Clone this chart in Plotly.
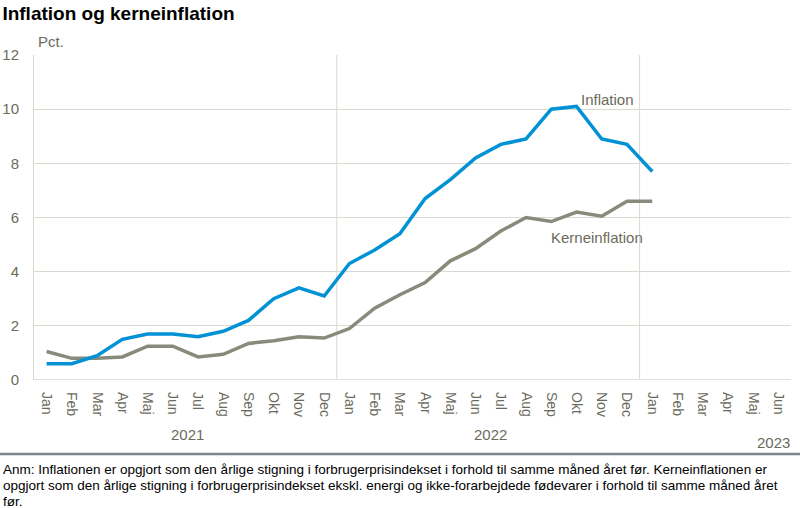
import plotly.graph_objects as go

W, H = 800, 508
M_L, M_R, M_T, M_B = 34, 9, 55, 128
BLUE = "#0092d5"
GREY = "#8a8a7c"
TXT = "#6b6b5c"
GRID = "#d9d9d0"
NARROW = "Liberation Sans Narrow, Arial Narrow, Liberation Sans, Arial"

months = ["Jan", "Feb", "Mar", "Apr", "Maj", "Jun", "Jul", "Aug", "Sep", "Okt", "Nov", "Dec"]
years = ["2021", "2022", "2023"]
categories = [f"{m} {y}" for y in years for m in months][:30]
tick_labels = [c.split()[0] for c in categories]

inflation = [0.6, 0.6, 0.9, 1.5, 1.7, 1.7, 1.6, 1.8, 2.2, 3.0, 3.4, 3.1,
             4.3, 4.8, 5.4, 6.7, 7.4, 8.2, 8.7, 8.9, 10.0, 10.1, 8.9, 8.7,
             7.7]
kerneinflation = [1.05, 0.8, 0.8, 0.85, 1.25, 1.25, 0.85, 0.95, 1.35, 1.45, 1.6, 1.55,
                  1.9, 2.65, 3.15, 3.6, 4.4, 4.85, 5.5, 6.0, 5.85, 6.2, 6.05, 6.6,
                  6.6]

note_lines = [
    "Anm: Inflationen er opgjort som den årlige stigning i forbrugerprisindekset i forhold til samme måned året før. Kerneinflationen er",
    "opgjort som den årlige stigning i forbrugerprisindekset ekskl. energi og ikke-forarbejdede fødevarer i forhold til samme måned året",
    "før.",
]

pw = W - M_L - M_R
ph = H - M_T - M_B


def px_x(x):
    return (x - M_L) / pw


def px_y(y):
    return (H - M_B - y) / ph


fig = go.Figure()
fig.add_trace(go.Scatter(x=categories[:len(kerneinflation)], y=kerneinflation, mode="lines",
                         line=dict(color=GREY, width=3.5), name="Kerneinflation"))
fig.add_trace(go.Scatter(x=categories[:len(inflation)], y=inflation, mode="lines",
                         line=dict(color=BLUE, width=3.5), name="Inflation"))

# årsskel
for pos in [11.5, 23.5]:
    fig.add_shape(type="line", xref="x", yref="y", x0=pos, x1=pos, y0=0, y1=12,
                  line=dict(color=GRID, width=1), layer="below")

# skillelinje over anmærkning
fig.add_shape(type="line", xref="paper", yref="paper", x0=px_x(0), x1=px_x(800),
              y0=px_y(454), y1=px_y(454), line=dict(color="#7d878b", width=2.5))

ann = [
    dict(text="Inflation", x=px_x(579), y=px_y(99), xanchor="left"),
    dict(text="Kerneinflation", x=px_x(549), y=px_y(237), xanchor="left"),
    dict(text="Pct.", x=px_x(36), y=px_y(42), xanchor="left"),
    dict(text="2021", x=px_x(187), y=px_y(434), xanchor="center"),
    dict(text="2022", x=px_x(490), y=px_y(434), xanchor="center"),
    dict(text="2023", x=px_x(792), y=px_y(442), xanchor="right"),
]
for a in ann:
    fig.add_annotation(xref="paper", yref="paper", yanchor="middle", showarrow=False,
                       font=dict(family=NARROW, size=15, color=TXT), **a)

for i, line in enumerate(note_lines):
    fig.add_annotation(text=line, xref="paper", yref="paper", x=px_x(1), y=px_y(470 + 15.5 * i),
                       xanchor="left", yanchor="middle", align="left", showarrow=False,
                       font=dict(family="Liberation Sans, Arial", size=13.5, color="#000000"))

fig.update_layout(
    width=W, height=H,
    margin=dict(l=M_L, r=M_R, t=M_T, b=M_B, autoexpand=False),
    paper_bgcolor="white", plot_bgcolor="white",
    showlegend=False,
    title=dict(text="<b>Inflation og kerneinflation</b>", xref="container", yref="container",
               x=0.003, y=1 - 13 / H, xanchor="left", yanchor="middle",
               font=dict(family="Liberation Sans, Arial", size=19, color="#000000")),
    xaxis=dict(type="category", categoryorder="array", categoryarray=categories,
               tickmode="array", tickvals=categories, ticktext=tick_labels,
               tickangle=90, range=[-0.5, len(categories) - 0.5],
               showgrid=False, zeroline=False, showline=False, ticks="",
               ticklabelstandoff=11, automargin=False,
               tickfont=dict(family=NARROW, size=14, color=TXT)),
    yaxis=dict(range=[0, 12], tickvals=[0, 2, 4, 6, 8, 10, 12],
               showgrid=True, gridcolor=GRID, gridwidth=1,
               zeroline=False, showline=True, linecolor=GRID, linewidth=1,
               mirror=False, ticks="", ticklabelstandoff=11, automargin=False,
               tickfont=dict(family=NARROW, size=15, color=TXT)),
)
# bund-akse
fig.add_shape(type="line", xref="paper", yref="y", x0=0, x1=1, y0=0, y1=0,
              line=dict(color=GRID, width=1.5), layer="below")

# siden har 8px body-margen som standard; fjern den så figuren sidder i hjørnet
fig.write_html("out.html", config={"displayModeBar": False},
               post_script="document.body.style.margin='0';")
